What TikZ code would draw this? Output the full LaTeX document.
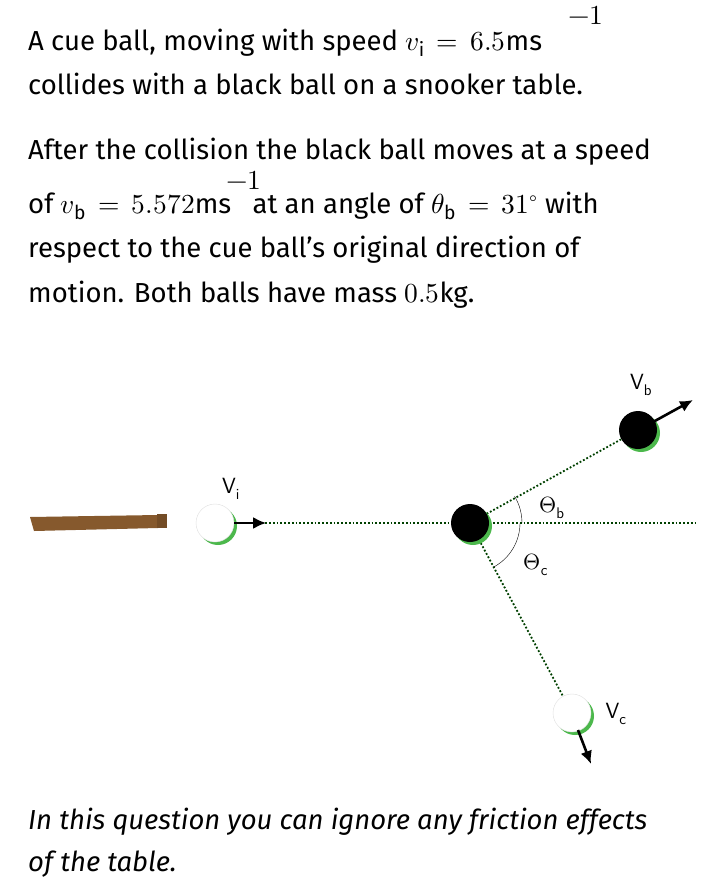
\documentclass[tikz,border=0pt]{standalone}
\usepackage{fontspec}
\setmainfont{Fira Sans}
\usepackage{unicode-math}
\setmathfont{Latin Modern Math}
\usetikzlibrary{arrows.meta,calc}
\begin{document}
\begin{tikzpicture}[x=1pt,y=-1pt,
  txt/.style={anchor=base west,inner sep=0pt,font=\fontsize{27.5}{32}\selectfont},
  lbl/.style={inner sep=0pt,font=\fontsize{22}{26}\selectfont\sffamily},
  dotl/.style={line width=1.8pt,dotted,draw=green!25!black},
  vel/.style={line width=2.6pt,-{Latex[length=13pt,width=12pt]}},
  wball/.style={circle,minimum size=38pt,inner sep=0pt,fill=white,draw=gray!25},
  bball/.style={circle,minimum size=38pt,inner sep=0pt,fill=black}]
\useasboundingbox (0,0) rectangle (720,889);
% text
\node[txt] (t1) at (28,50) {A cue ball, moving with speed $v_\mathrm{i}\,=\,6.5$ms};
\node[txt] (s1) at (568,24) {$-1$};
\node[txt] (t2) at (28,94) {collides with a black ball on a snooker table.};
\node[txt] (t3) at (28,159) {After the collision the black ball moves at a speed};
\node[txt] (t4) at (28,213) {of $v_\mathrm{b}\,=\,5.572$ms\hspace{14pt} at an angle of $\theta_\mathrm{b}\,=\,31^\circ$ with};
\node[txt] (s2) at (226,189) {$-1$};
\node[txt] (t5) at (28,257) {respect to the cue ball's original direction of};
\node[txt] (t6) at (28,302) {motion. Both balls have mass $0.5$kg.};
\node[txt,font=\fontsize{27.5}{32}\selectfont\itshape] (t7) at (28,829) {In this question you can ignore any friction effects};
\node[txt,font=\fontsize{27.5}{32}\selectfont\itshape] (t8) at (28,871) {of the table.};
% cue stick
\fill[brown!70!black] (30,517) -- (158,515) -- (158,528) -- (34,531) -- cycle;
\fill[brown!60!black] (157,514) rectangle (167,528);
% coordinates
\coordinate (C) at (470,523);
\coordinate (B) at (638,430);
\coordinate (W) at (572,713);
\coordinate (Q) at (215,523);
\coordinate (R) at (695,523);
% dotted lines
\draw[dotl] (250,523) -- (R);
\draw[dotl] (C) -- (B);
\draw[dotl] (C) -- (W);
% shadows
\foreach \p in {C,B,W,Q} \fill[green!60!black!70] ($(\p)+(3,3)$) circle (19pt);
\node[wball] (qb) at (Q) {};
\node[bball] (cb) at (C) {};
\node[bball] (bb) at (B) {};
\node[wball] (wb) at (W) {};
% arrows
\draw[vel] (qb.east) -- ++(32,0);
\draw[vel] (bb.center) ++(15,-8) -- ++(40,-22);
\draw[vel] (wb.center) ++(6,17) -- ++(13,34);
% arcs
\draw[thin] (C) ++(0:52) arc[start angle=0,end angle=-31,radius=52];
\draw[thin] (C) ++(0:50) arc[start angle=0,end angle=62,radius=50];
% labels
\node[lbl] (lvi) at (231,489) {V\textsubscript{i}};
\node[lbl] (lvb) at (641,385) {V\textsubscript{b}};
\node[lbl] (lvc) at (616,714) {V\textsubscript{c}};
\node[lbl] (ltb) at (552,508) {$\Theta$\textsubscript{b}};
\node[lbl] (ltc) at (536,565) {$\Theta$\textsubscript{c}};
\end{tikzpicture}
\end{document}
